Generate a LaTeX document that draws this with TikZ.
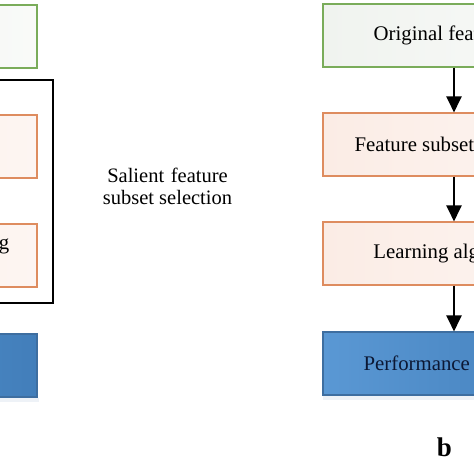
\documentclass[tikz,border=0pt]{standalone}
\usepackage{fontspec}
\setmainfont{Liberation Serif}
\usetikzlibrary{arrows.meta}
\definecolor{grnB}{RGB}{122,172,90}
\definecolor{grnF}{RGB}{240,243,239}
\definecolor{orgB}{RGB}{222,140,95}
\definecolor{orgF}{RGB}{251,236,229}
\definecolor{bluB}{RGB}{62,110,160}
\definecolor{bluT}{RGB}{90,152,212}
\definecolor{bluD}{RGB}{66,126,186}
\definecolor{navy}{RGB}{12,24,52}
\tikzset{
  box/.style={minimum width=262pt, minimum height=63pt, inner sep=0pt,
    line width=1.1pt, font=\fontsize{20.8}{22}\selectfont, align=center},
  greenbox/.style={box, draw=grnB, left color=grnF, right color=white!60!grnF},
  orangebox/.style={box, draw=orgB, left color=orgF, right color=white!50!orgF},
  bluebox/.style={box, draw=bluB, left color=bluT, right color=bluD, text=navy},
  flow/.style={line width=2.2pt, -{Triangle[width=15pt,length=16pt]}},
  caption/.style={font=\fontsize{20.5}{22}\selectfont, align=center},
}
\begin{document}
\begin{tikzpicture}[x=1pt,y=-1pt]
\useasboundingbox (0,0) rectangle (474,474);
\clip (0,0) rectangle (474,474);
% left panel (cropped)
\node[greenbox] (la) at (-94,36.5) {};
\node[orangebox] (lb) at (-94,146.5) {};
\node[orangebox] (lc) at (-94,255.5) {};
\node[anchor=base east, font=\fontsize{20.8}{22}\selectfont, inner sep=0pt] (lg) at (9.5,249) {g};
\fill[bluB!15, opacity=0.6] (-225,398) rectangle (39,402);
\node[bluebox] (ld) at (-94,365.5) {};
\draw[line width=2pt] (-241,80) rectangle (53,303);
% middle caption
\node[caption] (sal) at (167.5,186) {Salient\hspace{1.5pt} feature\\subset selection};
% right panel
\node[greenbox] (ra) at (454,35.5) {Original feature set};
\node[orangebox] (rb) at (454,144.5) {Feature subset selection};
\node[orangebox] (rc) at (454,253.5) {Learning algorithm};
\fill[bluB!15, opacity=0.6] (323,396) rectangle (587,400);
\node[bluebox] (rd) at (454,363.5) {Performance measure};
\draw[flow] (ra) -- (rb);
\draw[flow] (rb) -- (rc);
\draw[flow] (rc) -- (rd);
\node[font=\fontsize{27}{30}\selectfont\bfseries] (lbl) at (444.5,447) {b};
\end{tikzpicture}
\end{document}
